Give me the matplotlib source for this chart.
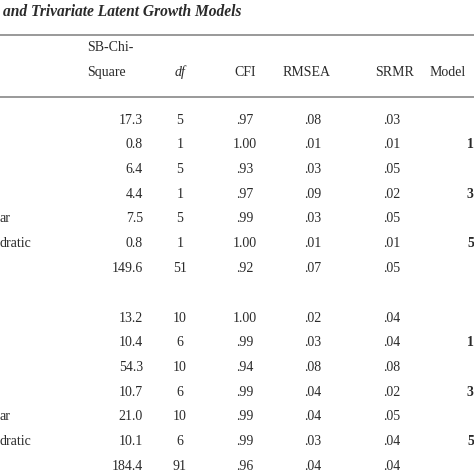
import matplotlib
matplotlib.use("Agg")
import matplotlib.pyplot as plt

title = "and Trivariate Latent Growth Models"
headers = ["df", "CFI", "RMSEA", "SRMR", "Model"]
sb1 = ["17.3", "0.8", "6.4", "4.4", "7.5", "0.8", "149.6"]
df1 = ["5", "1", "5", "1", "5", "1", "51"]
cfi1 = [".97", "1.00", ".93", ".97", ".99", "1.00", ".92"]
rmsea1 = [".08", ".01", ".03", ".09", ".03", ".01", ".07"]
srmr1 = [".03", ".01", ".05", ".02", ".05", ".01", ".05"]
sb2 = ["13.2", "10.4", "54.3", "10.7", "21.0", "10.1", "184.4"]
df2 = ["10", "6", "10", "6", "10", "6", "91"]
cfi2 = ["1.00", ".99", ".94", ".99", ".99", ".99", ".96"]
rmsea2 = [".02", ".03", ".08", ".04", ".04", ".03", ".04"]
srmr2 = [".04", ".04", ".08", ".02", ".05", ".04", ".04"]
left_labels = ["", "", "", "", "ar", "dratic", ""]
right_labels = ["", "1", "", "3", "", "5", ""]

fig = plt.figure(figsize=(4.74, 4.74), dpi=100)
ax = fig.add_axes([0, 0, 1, 1])
ax.set_xlim(0, 474)
ax.set_ylim(474, 0)
ax.axis("off")
F = "Liberation Serif"
fs = 10
col = "#2a2a2a"
ax.text(3, 12, title, fontfamily=F, fontsize=11.2, style="italic", fontweight="bold", va="center", color=col)
ax.plot([0, 474], [35, 35], color="#888", lw=1.2)
ax.plot([0, 474], [97, 97], color="#888", lw=1.2)
ax.text(87, 47, "SB-Chi-", fontfamily=F, fontsize=fs, va="center", color=col)
ax.text(87, 72, "Square", fontfamily=F, fontsize=fs, va="center", color=col)
hx = [180, 245, 307, 395, 430]
for i, (h, x) in enumerate(zip(headers, hx)):
    ax.text(x, 72, h, fontfamily=F, fontsize=fs, va="center", ha="left" if i == 4 else "center",
            style="italic" if h == "df" else "normal", color=col)

def block(y0, sb, df, cfi, rm, sr):
    for k in range(7):
        y = y0 + k * 24.7
        ax.text(143, y, sb[k], fontfamily=F, fontsize=fs, ha="right", va="center", color=col)
        ax.text(180, y, df[k], fontfamily=F, fontsize=fs, ha="center", va="center", color=col)
        ax.text(245, y, cfi[k], fontfamily=F, fontsize=fs, ha="center", va="center", color=col)
        ax.text(313, y, rm[k], fontfamily=F, fontsize=fs, ha="center", va="center", color=col)
        ax.text(392, y, sr[k], fontfamily=F, fontsize=fs, ha="center", va="center", color=col)
        ax.text(0, y, left_labels[k], fontfamily=F, fontsize=fs, ha="left", va="center", color=col)
        ax.text(467, y, right_labels[k], fontfamily=F, fontsize=fs, ha="left", va="center", fontweight="bold", color=col)

block(120, sb1, df1, cfi1, rmsea1, srmr1)
block(318, sb2, df2, cfi2, rmsea2, srmr2)
fig.savefig("out.png", dpi=100)
